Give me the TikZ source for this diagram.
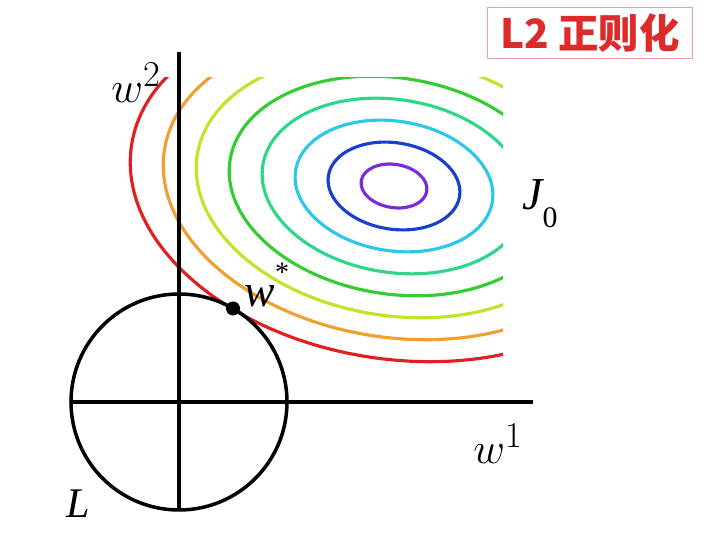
\documentclass[tikz,border=0pt]{standalone}
\usepackage{fontspec}
\usetikzlibrary{calc}
\newfontfamily\cjk{Noto Sans CJK SC}
\newfontfamily\tnr{Liberation Serif}
\definecolor{ringpurple}{HTML}{7A2BE0}
\definecolor{ringblue}{HTML}{1A3FD0}
\definecolor{ringcyan}{HTML}{2CC8EA}
\definecolor{ringteal}{HTML}{2ED68A}
\definecolor{ringgreen}{HTML}{33CC33}
\definecolor{ringlime}{HTML}{BDE628}
\definecolor{ringorange}{HTML}{F0A030}
\definecolor{ringred}{HTML}{E02020}
\definecolor{tagred}{HTML}{DD2A2A}
\tikzset{
    axis/.style={line width=2pt, black},
    ring/.style={line width=1.8pt},
    mathlbl/.style={inner sep=0pt, font=\fontsize{28}{30}\selectfont},
    romanlbl/.style={inner sep=0pt, font=\fontsize{26}{28}\selectfont\tnr\itshape},
}
\begin{document}
\begin{tikzpicture}[x=0.02cm, y=0.02cm]
        \useasboundingbox (0,0) rectangle (725,535);
        \coordinate (C) at (394,349);
        \coordinate (O) at (179,133);

        \begin{scope}
            \clip (0,0) rectangle (503,457);
            \foreach \k/\col in {1/ringpurple, 2/ringblue, 3/ringcyan, 4/ringteal,
                                 5/ringgreen, 6/ringlime, 7/ringorange, 8/ringred}
                \draw[ring, \col, rotate around={-9:(C)}] (C) ellipse [x radius=33.2*\k, y radius=21.6*\k];
        \end{scope}

        \coordinate (top) at (179,483);
        \coordinate (bot) at (179,25);
        \coordinate (left) at (70,133);
        \coordinate (right) at (533,133);
        \draw[axis] (bot) -- (top);
        \draw[axis] (left) -- (right);
        \draw[axis] (O) circle [radius=108];

        \node[circle, fill=black, inner sep=0pt, minimum size=0.28cm] (wstar) at ($(O)+(60:108)$) {};

        \node[mathlbl] (w2) at (136,452) {$w^2$};
        \node[mathlbl] (w1) at (498,91) {$w^1$};
        \node[romanlbl] (J0) at (540,331) {J\raisebox{-0.4em}{\fontsize{17}{18}\selectfont\upshape 0}};
        \node[romanlbl] (ws) at (267,250) {w\raisebox{0.55em}{\fontsize{16}{18}\selectfont\upshape *}};
        \node[romanlbl, font=\fontsize{24}{26}\selectfont\tnr\itshape] (L) at (78,31) {L};

        \node[draw=tagred!45, line width=0.6pt, minimum width=4.1cm, minimum height=0.98cm,
              text=tagred, font=\fontsize{23}{25}\selectfont\cjk\bfseries] (tag) at (590,502) {L2 正则化};
    \end{tikzpicture}
\end{document}
